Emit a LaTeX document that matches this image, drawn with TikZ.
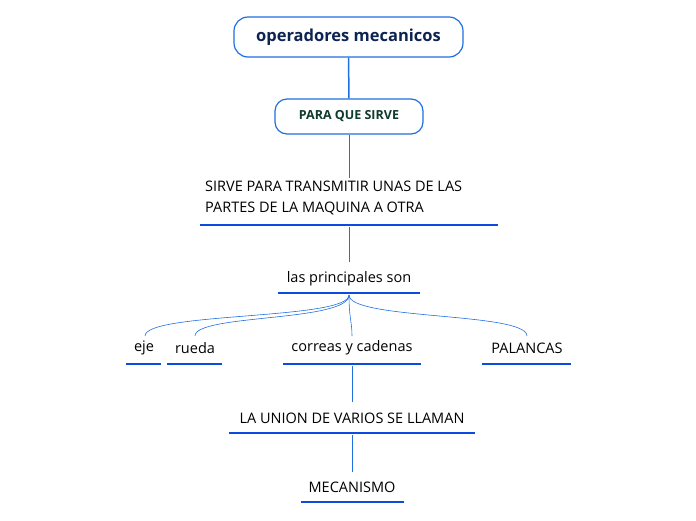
\documentclass[tikz,border=0pt]{standalone}
\usepackage{fontspec}
\setmainfont{Open Sans}
\definecolor{bl}{HTML}{1F6FE0}
\definecolor{ul}{HTML}{0B4BE0}
\definecolor{navy}{HTML}{0D2452}
\definecolor{dgreen}{HTML}{0E3B2A}
\begin{document}
\begin{tikzpicture}[x=1pt,y=-1pt,
  box/.style={draw=bl,line width=1.2pt,rounded corners=14pt,fill=white},
  lab/.style={font=\fontsize{14.5}{21}\selectfont,inner sep=0pt},
  uline/.style={draw=ul,line width=1.6pt},
  conn/.style={draw=bl,line width=0.6pt}]
\useasboundingbox (0,0) rectangle (696,520);
\node[box,minimum width=229pt,minimum height=40pt,font=\fontsize{16.5}{19}\selectfont\bfseries,text=navy] (root) at (348.5,37) {operadores mecanicos};
\node[box,minimum width=148pt,minimum height=35pt,rounded corners=12pt,font=\fontsize{12.5}{14}\selectfont\bfseries,text=dgreen] (para) at (349,116.5) {PARA QUE SIRVE};
\draw[draw=bl,line width=1.5pt] (root.south) -- (para.north);
\node[lab,align=left,anchor=north west] (sirve) at (205,181) {SIRVE PARA TRANSMITIR UNAS DE LAS\\PARTES DE LA MAQUINA A OTRA};
\draw[uline] (200,225) -- (498,225);
\coordinate (s1) at (349,227);
\draw[conn] (para.south) -- (349,178);
\node[lab] (prin) at (349,279) {las principales son};
\draw[uline] (278,293) -- (420,293);
\draw[conn] (s1) -- (349,262);
\coordinate (p) at (349,295);
\node[lab] (eje) at (144,348) {eje};
\node[lab] (rueda) at (195,348) {rueda};
\node[lab] (corr) at (352,348) {correas y cadenas};
\node[lab] (pal) at (527,348) {PALANCAS};
\draw[uline] (126,364) -- (161,364);
\draw[uline] (167,364) -- (222,364);
\draw[uline] (283,364) -- (421,364);
\draw[uline] (482,364) -- (571,364);
\draw[conn] (p) .. controls (349,320) and (145,312) .. (145,336);
\draw[conn] (p) .. controls (349,322) and (195,314) .. (195,336);
\draw[conn] (p) .. controls (349,318) and (352,322) .. (352,336);
\draw[conn] (p) .. controls (349,320) and (527,312) .. (527,336);
\node[lab] (union) at (352,418) {LA UNION DE VARIOS SE LLAMAN};
\draw[uline] (229,433) -- (475,433);
\draw[conn] (352,366) -- (352,402);
\node[lab] (mec) at (352,487) {MECANISMO};
\draw[uline] (301,502) -- (404,502);
\draw[conn] (352,435) -- (352,472);
\end{tikzpicture}
\end{document}
